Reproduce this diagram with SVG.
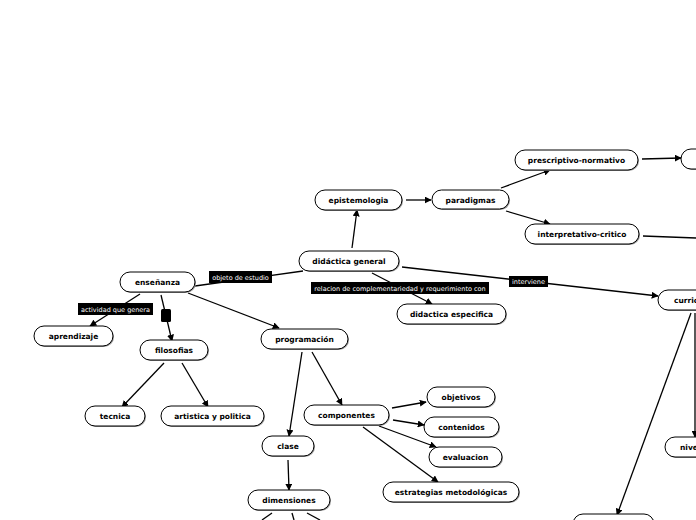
<svg xmlns="http://www.w3.org/2000/svg" width="696" height="520" viewBox="0 0 696 520">
<style>
.n rect.s{fill:#999}
.n rect.b{fill:#fff;stroke:#000;stroke-width:1}
.n text{font-family:"DejaVu Sans",sans-serif;font-weight:bold;font-size:7.5px;text-anchor:middle;fill:#000}
.e line{stroke:#000;stroke-width:1.3}
.e .a{marker-end:url(#ar)}
.l rect{fill:#000}
.l text{font-family:"DejaVu Sans",sans-serif;font-size:6.5px;fill:#fff;text-anchor:middle}
</style>
<defs><marker id="ar" viewBox="0 0 10 10" refX="9" refY="5" markerWidth="7" markerHeight="7" markerUnits="userSpaceOnUse" orient="auto"><path d="M0,0L10,5L0,10z" fill="#000"/></marker></defs>
<rect width="696" height="520" fill="#fff"/>
<g class="e">
<line class="a" x1="352" y1="248" x2="357" y2="210"/>
<line class="a" x1="406" y1="200" x2="431" y2="200"/>
<line class="a" x1="501" y1="188" x2="550" y2="170"/>
<line class="a" x1="506" y1="211" x2="550" y2="224"/>
<line class="a" x1="642" y1="159" x2="681" y2="158"/>
<line x1="643" y1="236" x2="696" y2="238"/>
<line x1="303" y1="271" x2="195" y2="286"/>
<line class="a" x1="372" y1="273" x2="432" y2="304"/>
<line class="a" x1="402" y1="267" x2="658" y2="296"/>
<line class="a" x1="140" y1="294" x2="90" y2="326"/>
<line class="a" x1="161" y1="295" x2="172" y2="341"/>
<line class="a" x1="188" y1="293" x2="279" y2="328"/>
<line class="a" x1="164" y1="363" x2="122" y2="407"/>
<line class="a" x1="182" y1="363" x2="208" y2="407"/>
<line class="a" x1="302" y1="352" x2="289" y2="436"/>
<line class="a" x1="312" y1="352" x2="342" y2="405"/>
<line class="a" x1="392" y1="408" x2="426" y2="402"/>
<line class="a" x1="393" y1="420" x2="424" y2="425"/>
<line class="a" x1="379" y1="426" x2="436" y2="447"/>
<line class="a" x1="363" y1="427" x2="438" y2="482"/>
<line class="a" x1="288" y1="460" x2="289" y2="490"/>
<line x1="272" y1="513" x2="262" y2="520"/>
<line x1="292" y1="513" x2="294" y2="520"/>
<line x1="307" y1="513" x2="320" y2="520"/>
<line class="a" x1="691" y1="313" x2="617" y2="515"/>
<line class="a" x1="695" y1="313" x2="695" y2="437"/>
</g>
<g class="l">
<g><rect x="209" y="271" width="63" height="12"/><text x="240.5" y="279.5">objeto de estudio</text></g>
<g><rect x="78" y="303" width="75" height="12"/><text x="115.5" y="311.5">actividad que genera</text></g>
<g><rect x="161" y="309" width="10" height="13" rx="1.5"/></g>
<g><rect x="311" y="282" width="178" height="12"/><text x="400" y="290.5">relacion de complementariedad y requerimiento con</text></g>
<g><rect x="509" y="276" width="39" height="11"/><text x="528.5" y="284">interviene</text></g>
</g>
<g class="n" id="didactica-general"><rect class="s" x="300" y="252" width="100" height="20" rx="10"/><rect class="b" x="299" y="251" width="100" height="20" rx="10"/><text x="349" y="264">didáctica general</text></g>
<g class="n" id="epistemologia"><rect class="s" x="316" y="191" width="87" height="20" rx="10"/><rect class="b" x="315" y="190" width="87" height="20" rx="10"/><text x="358.5" y="203">epistemologia</text></g>
<g class="n" id="paradigmas"><rect class="s" x="433" y="191" width="77" height="19" rx="9.5"/><rect class="b" x="432" y="190" width="77" height="19" rx="9.5"/><text x="470.5" y="202.5">paradigmas</text></g>
<g class="n" id="prescriptivo"><rect class="s" x="516" y="151" width="123" height="20" rx="10"/><rect class="b" x="515" y="150" width="123" height="20" rx="10"/><text x="576.5" y="163">prescriptivo-normativo</text></g>
<g class="n" id="cut1"><rect class="s" x="682" y="150" width="30" height="20" rx="10"/><rect class="b" x="681" y="149" width="30" height="20" rx="10"/></g>
<g class="n" id="interpretativo"><rect class="s" x="526" y="225" width="114" height="20" rx="10"/><rect class="b" x="525" y="224" width="114" height="20" rx="10"/><text x="582" y="237">interpretativo-critico</text></g>
<g class="n" id="ensenanza"><rect class="s" x="121" y="273" width="75" height="20" rx="10"/><rect class="b" x="120" y="272" width="75" height="20" rx="10"/><text x="157.5" y="285">enseñanza</text></g>
<g class="n" id="aprendizaje"><rect class="s" x="35" y="327" width="79" height="20" rx="10"/><rect class="b" x="34" y="326" width="79" height="20" rx="10"/><text x="73.5" y="339">aprendizaje</text></g>
<g class="n" id="filosofias"><rect class="s" x="141" y="341" width="68" height="20" rx="10"/><rect class="b" x="140" y="340" width="68" height="20" rx="10"/><text x="174" y="353">filosofias</text></g>
<g class="n" id="tecnica"><rect class="s" x="86" y="407" width="60" height="20" rx="10"/><rect class="b" x="85" y="406" width="60" height="20" rx="10"/><text x="115" y="419">tecnica</text></g>
<g class="n" id="artistica"><rect class="s" x="162" y="407" width="103" height="20" rx="10"/><rect class="b" x="161" y="406" width="103" height="20" rx="10"/><text x="212.5" y="419">artistica y politica</text></g>
<g class="n" id="programacion"><rect class="s" x="262" y="330" width="87" height="20" rx="10"/><rect class="b" x="261" y="329" width="87" height="20" rx="10"/><text x="304.5" y="342">programación</text></g>
<g class="n" id="componentes"><rect class="s" x="305" y="406" width="85" height="20" rx="10"/><rect class="b" x="304" y="405" width="85" height="20" rx="10"/><text x="346.5" y="418">componentes</text></g>
<g class="n" id="objetivos"><rect class="s" x="428" y="388" width="68" height="20" rx="10"/><rect class="b" x="427" y="387" width="68" height="20" rx="10"/><text x="461" y="400">objetivos</text></g>
<g class="n" id="contenidos"><rect class="s" x="425" y="418" width="75" height="20" rx="10"/><rect class="b" x="424" y="417" width="75" height="20" rx="10"/><text x="461.5" y="430">contenidos</text></g>
<g class="n" id="evaluacion"><rect class="s" x="430" y="448" width="73" height="20" rx="10"/><rect class="b" x="429" y="447" width="73" height="20" rx="10"/><text x="465.5" y="460">evaluacion</text></g>
<g class="n" id="estrategias"><rect class="s" x="384" y="483" width="136" height="20" rx="10"/><rect class="b" x="383" y="482" width="136" height="20" rx="10"/><text x="451" y="495">estrategias metodológicas</text></g>
<g class="n" id="clase"><rect class="s" x="263" y="437" width="52" height="20" rx="10"/><rect class="b" x="262" y="436" width="52" height="20" rx="10"/><text x="288" y="449">clase</text></g>
<g class="n" id="dimensiones"><rect class="s" x="249" y="491" width="82" height="20" rx="10"/><rect class="b" x="248" y="490" width="82" height="20" rx="10"/><text x="289" y="503">dimensiones</text></g>
<g class="n" id="didactica-especifica"><rect class="s" x="398" y="305" width="109" height="20" rx="10"/><rect class="b" x="397" y="304" width="109" height="20" rx="10"/><text x="451.5" y="317">didactica especifica</text></g>
<g class="n" id="curriculo"><rect class="s" x="659" y="291" width="60" height="20" rx="10"/><rect class="b" x="658" y="290" width="60" height="20" rx="10"/><text x="674" y="303" style="text-anchor:start">curriculo</text></g>
<g class="n" id="niveles"><rect class="s" x="666" y="438" width="60" height="20" rx="10"/><rect class="b" x="665" y="437" width="60" height="20" rx="10"/><text x="680" y="450" style="text-anchor:start">niveles</text></g>
<g class="n" id="bottom"><rect class="s" x="574" y="515" width="81" height="20" rx="10"/><rect class="b" x="573" y="514" width="81" height="20" rx="10"/></g>
</svg>
